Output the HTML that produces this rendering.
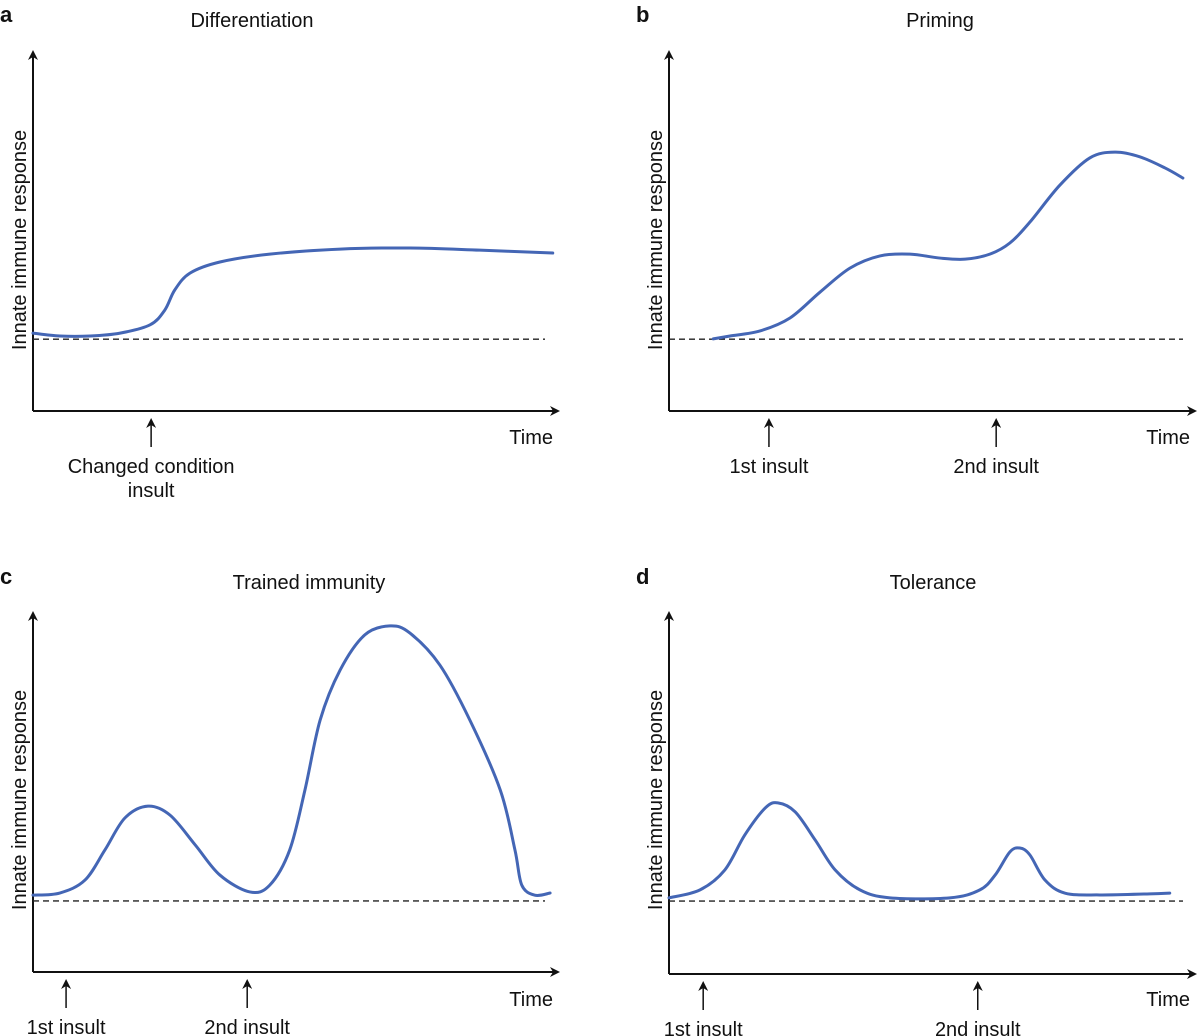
<!DOCTYPE html>
<html><head><meta charset="utf-8"><style>
html,body{margin:0;padding:0;background:#fff;}
svg{display:block;font-family:"Liberation Sans",sans-serif;}
</style></head><body>
<svg id="fig" width="1200" height="1036" viewBox="0 0 1200 1036" xmlns="http://www.w3.org/2000/svg">
<defs><marker id="ah" markerWidth="10" markerHeight="10" refX="8" refY="5" orient="auto" markerUnits="userSpaceOnUse"><path d="M0,0 L10,5 L0,10 L3,5 Z" fill="#111"/></marker></defs>
</svg>
<script>
// Panel data: time (0-100) and response (0-100)
const aTime = [0,5.1,10.9,16.6,22.3,25.1,27.0,29.9,35.6,45.1,58.5,71.8,85.1,99.0];
const aResp = [21.7,20.9,20.9,21.7,24.0,28.1,33.7,38.4,41.5,43.7,45.1,45.4,44.8,44.0];
const bTime = [8.4,11.6,17.3,23.0,28.7,34.4,40.1,45.8,51.5,56.3,61.0,64.8,68.6,74.3,80.0,84.8,89.5,94.3,97.7];
const bResp = [20.1,20.9,22.3,25.9,33.1,39.8,43.2,43.7,42.6,42.3,43.7,46.8,52.6,62.9,70.5,72.1,70.8,67.7,64.9];
const cTime = [0,5.1,9.9,13.7,17.5,21.9,26.1,30.9,35.6,41.3,45.1,48.9,51.8,54.7,58.5,63.2,68.0,71.8,77.5,83.2,89.0,91.8,93.1,95.6,98.5];
const cResp = [21.4,22.0,25.6,34.0,42.9,46.2,43.7,35.4,27.0,22.3,24.2,34.0,50.7,70.2,84.1,93.9,96.4,94.4,85.5,70.2,50.7,34.0,24.2,21.4,22.0];
const dTime = [0,5.9,10.6,14.4,18.3,20.7,24.0,27.8,31.6,36.3,42.0,53.4,59.1,62.0,64.8,66.7,68.6,71.5,75.3,81.9,91.4,95.2];
const dResp = [21.1,23.3,28.8,38.5,46.0,47.4,44.9,37.1,28.8,23.3,21.1,21.1,23.3,27.4,33.8,34.9,33.0,26.0,22.4,21.9,22.2,22.4];
const baselines = [20,20,19.8,20.2];
const titles = ["Differentiation","Priming","Trained immunity","Tolerance"];
const letters = ["a","b","c","d"];
const insultTimes = [[22.5],[19,62.2],[6.3,40.8],[6.5,58.7]];
const insultLabels = [["Changed condition","insult"],["1st insult","2nd insult"],["1st insult","2nd insult"],["1st insult","2nd insult"]];

const NS="http://www.w3.org/2000/svg";
const svg=document.getElementById('fig');
function mk(tag,attrs,parent){const e=document.createElementNS(NS,tag);for(const k in attrs)e.setAttribute(k,attrs[k]);(parent||svg).appendChild(e);return e;}

const panels=[
 {x0:33,x1:558,y0:411,yTop:52,dashEnd:545,tx:252,ty:27,lx:0,ly:22,ylx:20,yly:240,timeX:553,timeY:444,times:aTime,resp:aResp},
 {x0:669,x1:1195,y0:411,yTop:52,dashEnd:1183,tx:940,ty:27,lx:636,ly:22,ylx:656,yly:240,timeX:1190,timeY:444,times:bTime,resp:bResp},
 {x0:33,x1:558,y0:972,yTop:613,dashEnd:545,tx:309,ty:589,lx:0,ly:584,ylx:20,yly:800,timeX:553,timeY:1006,times:cTime,resp:cResp},
 {x0:669,x1:1195,y0:974,yTop:613,dashEnd:1183,tx:933,ty:589,lx:636,ly:584,ylx:656,yly:800,timeX:1190,timeY:1006,times:dTime,resp:dResp}
];

panels.forEach((p,i)=>{
  const g=mk('g',{});
  
  
  const xs=t=>p.x0+t/100*(p.x1-p.x0);
  const ys=v=>p.y0-v/100*(p.y0-p.yTop);
  const lt=mk('text',{x:p.lx,y:p.ly,'font-size':22,'font-weight':'bold',fill:'#111'},g);lt.textContent=letters[i];
  
  
  const tt=mk('text',{x:p.tx,y:p.ty,'font-size':20,'text-anchor':'middle',fill:'#111'},g);tt.textContent=titles[i];
  
  
  const ya=mk('line',{x1:p.x0,y1:p.y0,x2:p.x0,y2:p.yTop,stroke:'#111','stroke-width':2,'marker-end':'url(#ah)'},g);
  
  
  const xa=mk('line',{x1:p.x0,y1:p.y0,x2:p.x1,y2:p.y0,stroke:'#111','stroke-width':2,'marker-end':'url(#ah)'},g);
  
  
  const yl=mk('text',{x:0,y:0,'font-size':20,'text-anchor':'middle',fill:'#111',transform:`translate(${p.ylx+6},${p.yly}) rotate(-90)`},g);yl.textContent='Innate immune response';
  
  
  const tl=mk('text',{x:p.timeX,y:p.timeY,'font-size':20,'text-anchor':'end',fill:'#111'},g);tl.textContent='Time';
  
  
  const by=ys(baselines[i]);
  const dl=mk('line',{x1:p.x0,y1:by,x2:p.dashEnd,y2:by,stroke:'#222','stroke-width':1.3,'stroke-dasharray':'6,4'},g);
  
  
  // curve via Catmull-Rom
  const pts=p.times.map((t,k)=>[xs(t),ys(p.resp[k])]);
  let d=`M${pts[0][0]},${pts[0][1]}`;
  for(let k=0;k<pts.length-1;k++){
    const p0=pts[Math.max(0,k-1)],p1=pts[k],p2=pts[k+1],p3=pts[Math.min(pts.length-1,k+2)];
    const c1=[p1[0]+(p2[0]-p0[0])/6,p1[1]+(p2[1]-p0[1])/6];
    const c2=[p2[0]-(p3[0]-p1[0])/6,p2[1]-(p3[1]-p1[1])/6];
    d+=` C${c1[0]},${c1[1]} ${c2[0]},${c2[1]} ${p2[0]},${p2[1]}`;
  }
  const cv=mk('path',{d:d,fill:'none',stroke:'#4466b5','stroke-width':3,'stroke-linecap':'round'},g);
  
  
  insultTimes[i].forEach((t,k)=>{
    const ax=xs(t);
    const ar=mk('line',{x1:ax,y1:p.y0+36,x2:ax,y2:p.y0+9,stroke:'#111','stroke-width':1.5,'marker-end':'url(#ah)'},g);
    
    
    if(i===0){
      insultLabels[0].forEach((s,j)=>{
        const il=mk('text',{x:ax,y:p.y0+62+j*24,'font-size':20,'text-anchor':'middle',fill:'#111'},g);il.textContent=s;
        
        
      });
    } else {
      const il=mk('text',{x:ax,y:p.y0+62,'font-size':20,'text-anchor':'middle',fill:'#111'},g);il.textContent=insultLabels[i][k];
      
      
    }
  });
});
</script>
</body></html>
